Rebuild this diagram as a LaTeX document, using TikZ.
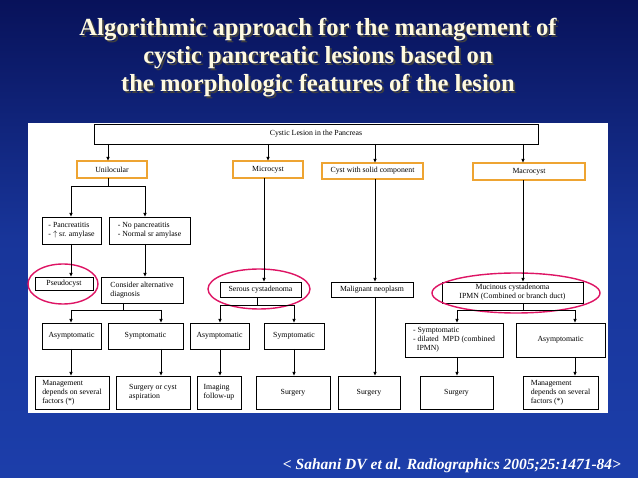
\documentclass[tikz,border=0pt]{standalone}
\usepackage{fontspec}
\setmainfont{Liberation Serif}
\usetikzlibrary{arrows.meta,calc}
\definecolor{navy}{RGB}{8,18,90}
\definecolor{bblue}{RGB}{28,62,170}
\definecolor{obox}{RGB}{238,164,50}
\definecolor{pinkc}{RGB}{222,20,100}
\definecolor{cream}{RGB}{255,250,225}
\tikzset{
 box/.style={draw=black,line width=0.9pt,fill=white,inner sep=1pt,outer sep=0pt,font=\fontsize{7.8}{9}\selectfont,align=center},
 obx/.style={box,draw=obox,line width=1.8pt},
 arr/.style={-{Latex[length=4pt,width=3.5pt]},line width=0.9pt},
 ln/.style={line width=0.9pt},
 ring/.style={draw=pinkc,line width=1.4pt},
 ttl/.style={font=\bfseries\fontsize{24.6}{28}\selectfont,text=cream,align=center}
}
\newcommand\bx[7][box]{\node[#1,minimum width={#5-#3},minimum height={#6-#4}] (#2) at ({(#3+#5)/2},{(#4+#6)/2}) {#7};}
\begin{document}
\begin{tikzpicture}[x=1pt,y=-1pt]
\useasboundingbox (0,0) rectangle (638,478);
\shade[top color=navy,bottom color=bblue,middle color=bblue!80!navy] (0,0) rectangle (638,478);
% title
\foreach \t/\y in {{Algorithmic approach for the management of}/30,{cystic pancreatic lesions based on}/58,{the morphologic features of the lesion}/86}
 {\node[ttl,text=black!75] at (320,\y+2) {\t}; \node[ttl] (t\y) at (318,\y) {\t};}
\fill[white] (28,123) rectangle (608,413);
\bx{top}{94}{124}{538}{144}{Cystic Lesion in the Pancreas}
\bx[obx]{uni}{77}{161}{147}{178}{Unilocular}
\bx[obx]{mic}{233}{161}{303}{178}{Microcyst}
\bx[obx]{sol}{322}{163}{423}{179}{Cyst with solid component}
\bx[obx]{mac}{473}{163}{585}{180}{Macrocyst}
\bx{pan}{42}{217}{101}{244}{\begin{tabular}{@{}l@{}}- Pancreatitis\\- $\uparrow$ sr. amylase\end{tabular}}
\bx{nop}{109}{217}{190}{244}{\begin{tabular}{@{}l@{}}- No pancreatitis\\- Normal sr amylase\end{tabular}}
\bx{pse}{35}{277}{93}{290}{Pseudocyst}
\bx{alt}{101}{277}{183}{303}{\begin{tabular}{@{}l@{}}Consider alternative\\diagnosis\end{tabular}}
\bx{as1}{42}{323}{101}{349}{Asymptomatic}
\bx{sy1}{108}{323}{183}{349}{Symptomatic}
\bx{mg1}{35}{376}{109}{409}{\begin{tabular}{@{}l@{}}Management\\depends on several\\factors (*)\end{tabular}}
\bx{sca}{116}{376}{190}{409}{\begin{tabular}{@{}l@{}}Surgery or cyst\\aspiration\end{tabular}}
\bx{ser}{220}{282}{301}{297}{Serous cystadenoma}
\bx{as2}{190}{323}{249}{349}{Asymptomatic}
\bx{sy2}{264}{323}{324}{349}{Symptomatic}
\bx{img}{197}{376}{241}{409}{\begin{tabular}{@{}l@{}}Imaging\\follow-up\end{tabular}}
\bx{su2}{256}{376}{330}{409}{Surgery}
\bx{mal}{331}{282}{413}{297}{Malignant neoplasm}
\bx{su3}{338}{376}{400}{409}{Surgery}
\bx{muc}{442}{282}{583}{303}{Mucinous cystadenoma\\IPMN (Combined or branch duct)}
\bx{dil}{405}{323}{503}{357}{\begin{tabular}{@{}l@{}}- Symptomatic\\- dilated\ \ MPD (combined\\\ \ IPMN)\end{tabular}}
\bx{as3}{516}{323}{605}{357}{Asymptomatic}
\bx{su4}{420}{376}{493}{409}{Surgery}
\bx{mg2}{523}{376}{598}{409}{\begin{tabular}{@{}l@{}}Management\\depends on several\\factors (*)\end{tabular}}
% rings
\draw[ring] (63,284) ellipse [x radius=35,y radius=20];
\draw[ring] (259,289) ellipse [x radius=51,y radius=20];
\draw[ring] (516,293) ellipse [x radius=84,y radius=20];
% connectors
\draw[arr] (top.south -| 108,0) -- (uni.north -| 108,0);
\draw[arr] (top.south -| mic.north) -- (mic.north);
\draw[arr] (top.south -| 375,0) -- (sol.north -| 375,0);
\draw[arr] (top.south -| 523,0) -- (mac.north -| 523,0);
\coordinate (u1) at (108,186);
\draw[ln] (uni.south -| u1) -- (u1); \draw[ln] (71,186) -- (145,186);
\draw[arr] (71,186) -- (pan.north -| 71,0);
\draw[arr] (145,186) -- (nop.north -| 145,0);
\draw[arr] (pan.south -| 71,0) -- (pse.north -| 71,0);
\draw[arr] (nop.south -| 145,0) -- (alt.north -| 145,0);
\draw[ln] (alt.south -| 123,0) -- (123,310); \draw[ln] (71,310) -- (161,310);
\draw[arr] (71,310) -- (as1.north -| 71,0);
\draw[arr] (161,310) -- (sy1.north -| 161,0);
\draw[arr] (as1.south -| 71,0) -- (mg1.north -| 71,0);
\draw[arr] (sy1.south -| 161,0) -- (sca.north -| 161,0);
\draw[arr] (mic.south -| 264,0) -- (ser.north -| 264,0);
\draw[ln] (ser.south -| 257,0) -- (257,305); \draw[ln] (220,305) -- (294,305);
\draw[arr] (220,305) -- (as2.north -| 220,0);
\draw[arr] (294,305) -- (sy2.north -| 294,0);
\draw[arr] (as2.south -| 220,0) -- (img.north -| 220,0);
\draw[arr] (sy2.south -| 294,0) -- (su2.north -| 294,0);
\draw[arr] (sol.south -| 375,0) -- (mal.north -| 375,0);
\draw[arr] (mal.south -| 375,0) -- (su3.north -| 375,0);
\draw[arr] (mac.south -| 523,0) -- (muc.north -| 523,0);
\draw[ln] (muc.south -| 523,0) -- (523,310); \draw[ln] (457,310) -- (575,310);
\draw[arr] (457,310) -- (dil.north -| 457,0);
\draw[arr] (575,310) -- (as3.north -| 575,0);
\draw[arr] (dil.south -| 457,0) -- (su4.north -| 457,0);
\draw[arr] (as3.south -| 575,0) -- (mg2.north -| 575,0);
\node[font=\bfseries\itshape\fontsize{15.5}{17}\selectfont,text=white] (cite) at (452,466) {< Sahani DV et al. Radiographics 2005;25:1471-84>};
\end{tikzpicture}
\end{document}
